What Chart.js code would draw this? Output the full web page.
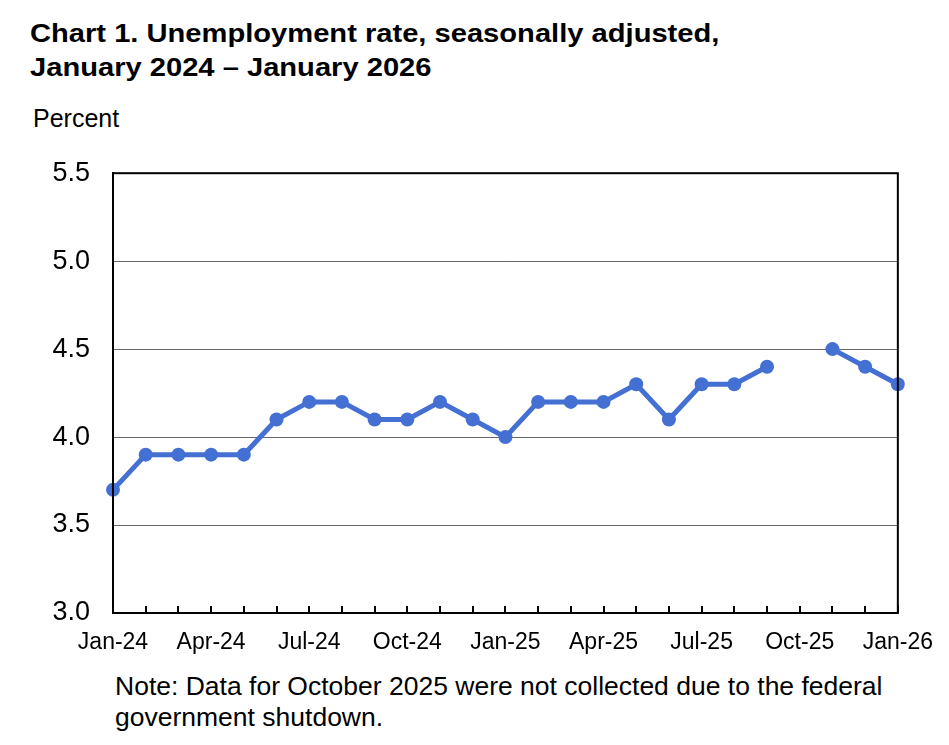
<!DOCTYPE html>
<html>
<head>
<meta charset="utf-8">
<script src="https://cdn.jsdelivr.net/npm/chart.js@4"></script>
<style>
  body { margin: 0; background: #fff; font-family: "Liberation Sans", Arial, sans-serif; color: #000; }
  .page { position: relative; width: 949px; height: 745px; overflow: hidden; }
  .title { position: absolute; left: 30px; top: 16px; font-size: 26px; font-weight: bold; line-height: 34px;
           transform: scaleX(1.12); transform-origin: left top; white-space: nowrap; }
  .unit { position: absolute; left: 33px; top: 103px; font-size: 25px; line-height: 30px; }
  .note { position: absolute; left: 115px; top: 671px; font-size: 25px; line-height: 31px;
          transform: scaleX(1.06); transform-origin: left top; white-space: nowrap; }
  .chart-box { position: absolute; left: 0; top: 134px; width: 949px; height: 536px; }
</style>
</head>
<body>
<div class="page">
  <div class="title">Chart 1. Unemployment rate, seasonally adjusted,<br>January 2024 – January 2026</div>
  <div class="unit">Percent</div>
  <div class="chart-box"><canvas id="rateChart"></canvas></div>
  <div class="note">Note: Data for October 2025 were not collected due to the federal<br>government shutdown.</div>
</div>
<script>
const months = ['Jan-24', 'Feb-24', 'Mar-24', 'Apr-24', 'May-24', 'Jun-24', 'Jul-24', 'Aug-24', 'Sep-24',
    'Oct-24', 'Nov-24', 'Dec-24', 'Jan-25', 'Feb-25', 'Mar-25', 'Apr-25', 'May-25', 'Jun-25', 'Jul-25',
    'Aug-25', 'Sep-25', 'Oct-25', 'Nov-25', 'Dec-25', 'Jan-26'];
// Oct-25 not collected (shutdown)
const rates = [3.7, 3.9, 3.9, 3.9, 3.9, 4.1, 4.2, 4.2, 4.1, 4.1, 4.2, 4.1, 4.0,
    4.2, 4.2, 4.2, 4.3, 4.1, 4.3, 4.3, 4.4, null, 4.5, 4.4, 4.3];
const yTicks = [3.0, 3.5, 4.0, 4.5, 5.0, 5.5];

const frameAndTicks = {
    id: 'frameAndTicks',
    afterDraw(chart) {
        const ctx = chart.ctx;
        const area = chart.chartArea;
        const x = chart.scales.x;
        ctx.save();
        ctx.strokeStyle = '#000';
        ctx.lineWidth = 2;
        // small ticks pointing up from the x axis, one per month
        months.forEach((m, i) => {
            const px = Math.round(x.getPixelForValue(i));
            ctx.beginPath();
            ctx.moveTo(px, area.bottom);
            ctx.lineTo(px, area.bottom - 7);
            ctx.stroke();
        });
        ctx.strokeRect(area.left, area.top, area.right - area.left, area.bottom - area.top);
        ctx.restore();
    }
};

new Chart(document.getElementById('rateChart'), {
    type: 'line',
    data: {
        labels: months,
        datasets: [{
            label: 'Unemployment rate',
            data: rates,
            borderColor: '#4470D4',
            backgroundColor: '#4470D4',
            borderWidth: 5,
            pointRadius: 7,
            pointHoverRadius: 7,
            pointBorderWidth: 0,
            spanGaps: false,
            tension: 0
        }]
    },
    options: {
        responsive: true,
        maintainAspectRatio: false,
        animation: false,
        layout: { padding: { top: 26, right: 48, left: 0, bottom: 0 } },
        plugins: { legend: { display: false }, tooltip: { enabled: false } },
        scales: {
            x: {
                offset: false,
                grid: { display: false, drawTicks: false },
                border: { display: true, color: '#000', width: 2 },
                afterFit: s => { s.height = 57; },
                ticks: {
                    autoSkip: false,
                    maxRotation: 0,
                    padding: 16,
                    color: '#000',
                    font: { family: '"Liberation Sans", Arial, sans-serif', size: 23 },
                    callback: (v, i) => (i % 3 === 0 ? months[i] : '')
                }
            },
            y: {
                min: yTicks[0],
                max: yTicks[yTicks.length - 1],
                afterFit: s => { s.width = 113; },
                afterBuildTicks: s => { s.ticks = yTicks.map(v => ({ value: v })); },
                grid: { color: '#666', lineWidth: 1, drawTicks: false },
                border: { display: true, color: '#000', width: 2 },
                ticks: {
                    padding: 23,
                    color: '#000',
                    font: { family: '"Liberation Sans", Arial, sans-serif', size: 27 },
                    callback: v => v.toFixed(1)
                }
            }
        }
    },
    plugins: [frameAndTicks]
});
</script>
</body>
</html>
